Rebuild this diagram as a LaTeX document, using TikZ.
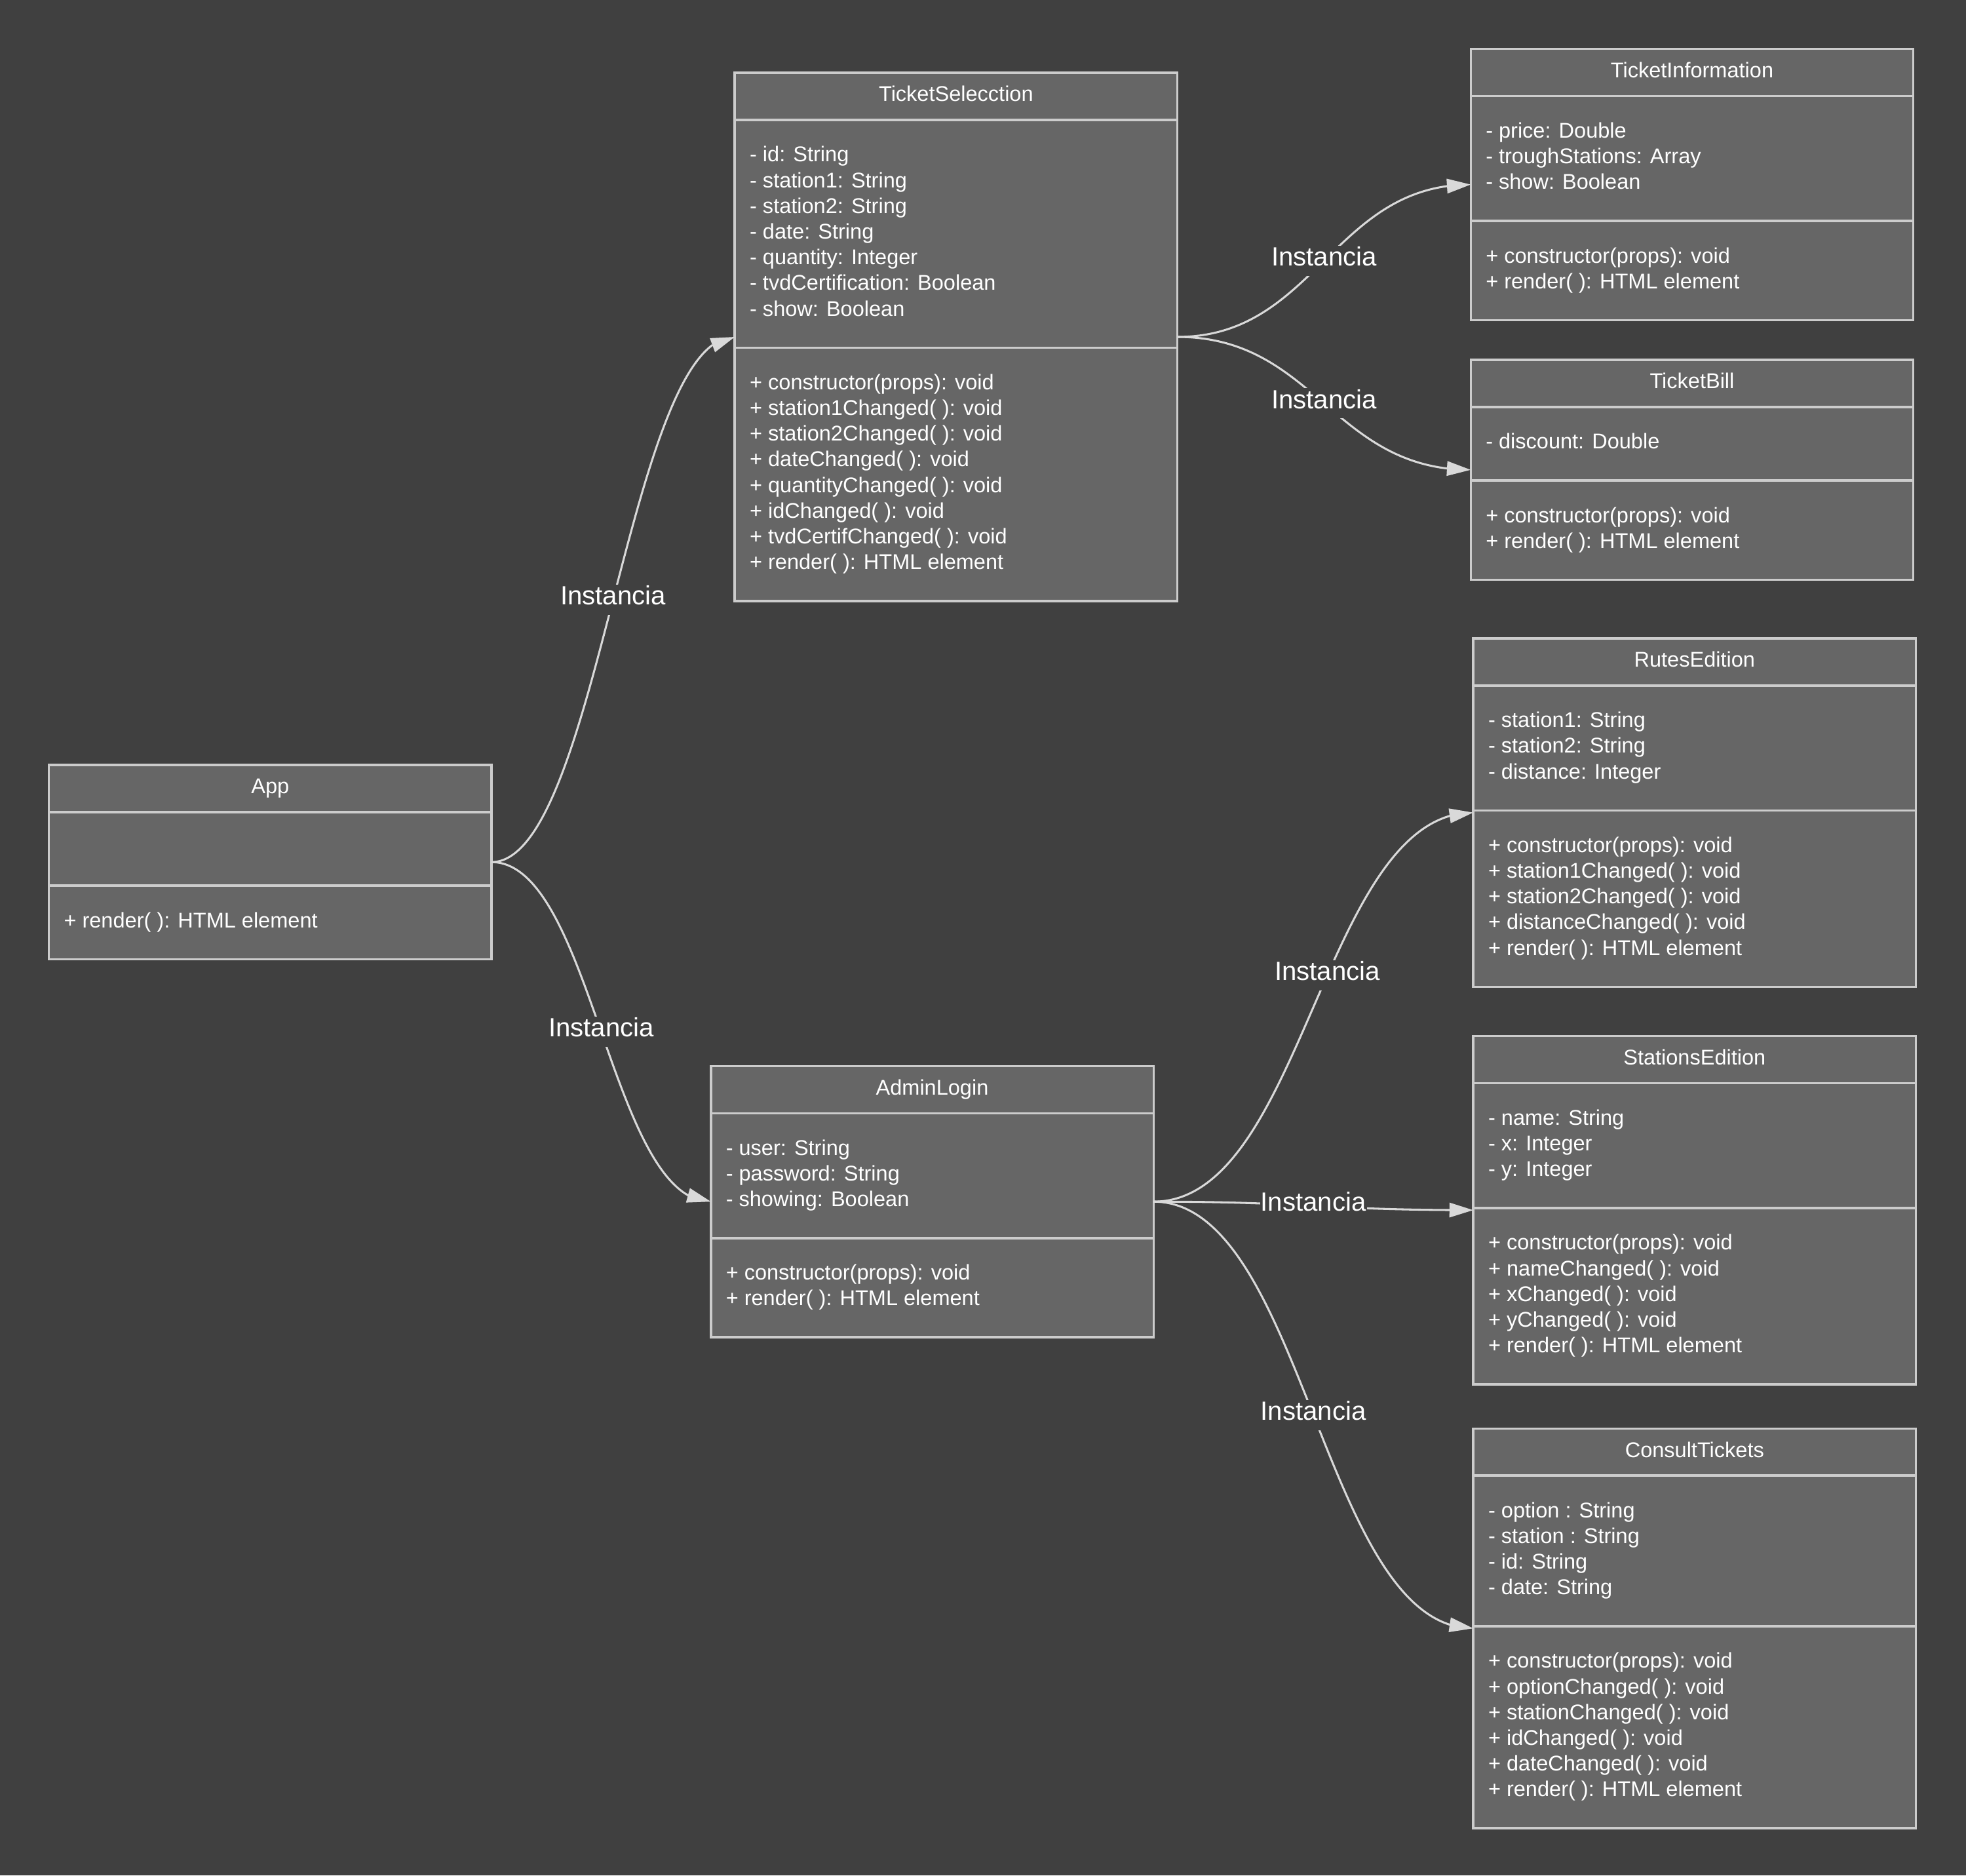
\documentclass[tikz,border=0pt]{standalone}
\usepackage{fontspec}
\setmainfont{Liberation Sans}
\usepackage{tikz}
\usetikzlibrary{shapes.multipart,arrows.meta,bending,positioning}
\definecolor{canvas}{HTML}{404040}
\definecolor{boxfill}{HTML}{666666}
\definecolor{boxline}{HTML}{CCCCCC}
\definecolor{linkline}{HTML}{D9D9D9}
\tikzset{>={Triangle[length=19pt,width=11.5pt]}}
\tikzset{class node/.style={rectangle split,rectangle split parts=3,
            rectangle split part align={center,left,left},
            rectangle split empty part height=24.85pt,
            rectangle split empty part depth=16.65pt,
            draw=boxline,fill=boxfill,line width=1.8pt,text=white,
            minimum width=353pt,inner xsep=12pt,inner ysep=7.65pt,outer sep=0pt,
            align=left,anchor=north west,font=\fontsize{17}{20.5}\selectfont},
         link/.style={color=linkline,line width=1.6pt,out=0,in=180},
         label node/.style={fill=canvas,text=white,inner xsep=0.5pt,inner ysep=0pt,
            text height=16pt,text depth=8pt,font=\fontsize{21}{25}\selectfont}
            }
% padding of the first and last line of a compartment
\newcommand\ftop{\rule{0pt}{24.85pt}}
\newcommand\fbot{\rule[-16.65pt]{0pt}{16.65pt}}

\begin{document}
\begin{tikzpicture}[x=1pt,y=1pt]

    \useasboundingbox[fill=canvas] (0,0) rectangle (1568,-1495.4);

    \node[class node] (app) at (39,-610) {\strut App
        \nodepart{two}\ftop\fbot
        \nodepart{three}\ftop + render( ): HTML element\fbot};

    \node[class node] (ts) at (586,-58) {\strut TicketSelecction
        \nodepart{two}\ftop - id: String\\ - station1: String\\ - station2: String\\
            - date: String\\ - quantity: Integer\\ - tvdCertification: Boolean\\
            - show: Boolean\fbot
        \nodepart{three}\ftop + constructor(props): void\\ + station1Changed( ): void\\
            + station2Changed( ): void\\ + dateChanged( ): void\\
            + quantityChanged( ): void\\ + idChanged( ): void\\
            + tvdCertifChanged( ): void\\ + render( ): HTML element\fbot};

    \node[class node] (al) at (567,-850) {\strut AdminLogin
        \nodepart{two}\ftop - user: String\\ - password: String\\ - showing: Boolean\fbot
        \nodepart{three}\ftop + constructor(props): void\\ + render( ): HTML element\fbot};

    \node[class node] (ti) at (1173,-39) {\strut TicketInformation
        \nodepart{two}\ftop - price: Double\\ - troughStations: Array\\ - show: Boolean\fbot
        \nodepart{three}\ftop + constructor(props): void\\ + render( ): HTML element\fbot};

    \node[class node] (tb) at (1173,-287) {\strut TicketBill
        \nodepart{two}\ftop - discount: Double\fbot
        \nodepart{three}\ftop + constructor(props): void\\ + render( ): HTML element\fbot};

    \node[class node] (re) at (1175,-509) {\strut RutesEdition
        \nodepart{two}\ftop - station1: String\\ - station2: String\\ - distance: Integer\fbot
        \nodepart{three}\ftop + constructor(props): void\\ + station1Changed( ): void\\
            + station2Changed( ): void\\ + distanceChanged( ): void\\
            + render( ): HTML element\fbot};

    \node[class node] (se) at (1175,-826) {\strut StationsEdition
        \nodepart{two}\ftop - name: String\\ - x: Integer\\ - y: Integer\fbot
        \nodepart{three}\ftop + constructor(props): void\\ + nameChanged( ): void\\
            + xChanged( ): void\\ + yChanged( ): void\\ + render( ): HTML element\fbot};

    \node[class node] (ct) at (1175,-1139) {\strut ConsultTickets
        \nodepart{two}\ftop - option : String\\ - station : String\\ - id: String\\
            - date: String\fbot
        \nodepart{three}\ftop + constructor(props): void\\ + optionChanged( ): void\\
            + stationChanged( ): void\\ + idChanged( ): void\\ + dateChanged( ): void\\
            + render( ): HTML element\fbot};

    \path[link,every edge/.append style={->}]
    (app.east) edge[distance=85pt] node[label node]{Instancia} (ts.west)
    (app.east) edge[distance=80pt] node[label node]{Instancia} (al.west)
    (ts.east) edge[distance=110pt] node[label node]{Instancia} (ti.west)
    (ts.east) edge[distance=110pt] node[label node]{Instancia} (tb.west)
    (al.east) edge[distance=120pt] node[label node,pos=0.555]{Instancia} (re.west)
    (al.east) edge[distance=120pt] node[label node]{Instancia} (se.west)
    (al.east) edge[distance=120pt] node[label node]{Instancia} (ct.west);

\end{tikzpicture}
\end{document}
